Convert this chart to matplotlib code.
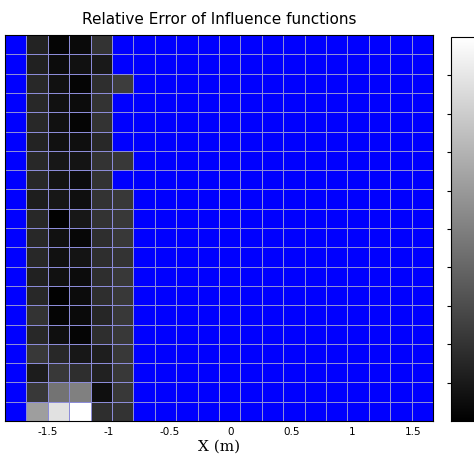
import matplotlib.pyplot as plt
import numpy as np
from matplotlib.colors import Normalize

# grayscale relative error values, rows top -> bottom, columns 1..5 (others blue / NaN)
rows_c1 = [0.14, 0.13, 0.16, 0.16, 0.16, 0.14, 0.16, 0.16, 0.12, 0.16,
           0.16, 0.16, 0.13, 0.16, 0.20, 0.16, 0.22, 0.11, 0.22, 0.62]
rows_c2 = [0.02, 0.05, 0.07, 0.07, 0.07, 0.07, 0.09, 0.08, 0.09, 0.01,
           0.07, 0.07, 0.07, 0.01, 0.02, 0.06, 0.16, 0.22, 0.45, 0.88]
rows_c3 = [0.04, 0.07, 0.02, 0.05, 0.02, 0.06, 0.08, 0.05, 0.06, 0.09,
           0.03, 0.08, 0.05, 0.05, 0.04, 0.02, 0.09, 0.18, 0.50, 1.00]
rows_c4 = [0.20, 0.10, 0.18, 0.20, 0.20, 0.16, 0.20, 0.20, 0.20, 0.20,
           0.18, 0.18, 0.18, 0.18, 0.15, 0.18, 0.12, 0.13, 0.06, 0.18]
rows_c5 = [np.nan, np.nan, 0.24, np.nan, np.nan, np.nan, 0.22, np.nan, 0.22, 0.22,
           0.22, 0.20, 0.22, 0.22, 0.22, 0.22, 0.22, 0.22, 0.22, 0.20]

n_cols = 20
n_rows = 20
x_edges = np.linspace(-1.85, 1.66, n_cols + 1)
y_edges = np.arange(n_rows + 1)

grid = np.full((n_rows, n_cols), np.nan)
grid[:, 1] = rows_c1
grid[:, 2] = rows_c2
grid[:, 3] = rows_c3
grid[:, 4] = rows_c4
grid[:, 5] = rows_c5
grid = grid[::-1]  # bottom row first for pcolormesh

cmap = plt.get_cmap("gray").copy()
cmap.set_bad("#0000ff")

fig = plt.figure(figsize=(4.74, 4.74), dpi=100)
ax = fig.add_axes([5 / 474, 1 - 421 / 474, 428 / 474, 386 / 474])
mesh = ax.pcolormesh(x_edges, y_edges, np.ma.masked_invalid(grid), cmap=cmap,
                     norm=Normalize(0, 1), edgecolor="#8c8cd8", linewidth=0.6)
ax.set_xlim(x_edges[0], x_edges[-1])
ax.set_ylim(0, n_rows)
ax.set_xticks([-1.5, -1, -0.5, 0, 0.5, 1, 1.5])
ax.set_xticklabels(["-1.5", "-1", "-0.5", "0", "0.5", "1", "1.5"], fontsize=7.5)
ax.set_yticks([])
ax.tick_params(axis="x", length=0, pad=4)
ax.set_xlabel("X (m)", family="DejaVu Serif", fontsize=11, labelpad=2)
ax.set_title("Relative Error of Influence functions", fontsize=11, pad=8)

cax = fig.add_axes([451 / 474, 1 - 421 / 474, 40 / 474, 384 / 474])
cb = fig.colorbar(mesh, cax=cax)
cb.set_ticks(np.linspace(0, 1, 11)[1:-1])
cax.yaxis.set_ticks_position("left")
cax.tick_params(length=3, labelleft=False, labelright=False)

fig.savefig("out.png", dpi=100)
